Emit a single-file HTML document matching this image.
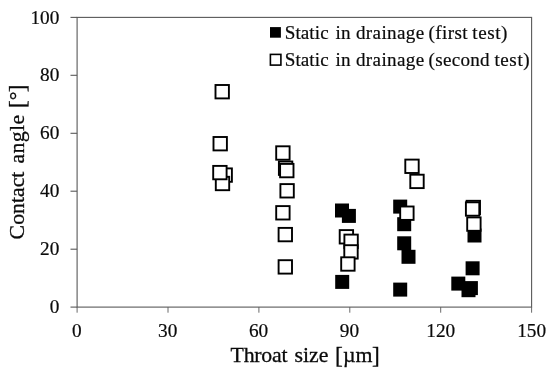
<!DOCTYPE html>
<html><head><meta charset="utf-8"><title>Contact angle vs throat size</title>
<style>
html,body{margin:0;padding:0;background:#fff;}
body{width:550px;height:377px;overflow:hidden;}
svg{display:block;}
text{font-family:"Liberation Serif","Times New Roman",serif;fill:#0a0a0a;stroke:#0a0a0a;stroke-width:0.2px;}
.tk{font-size:19.3px;}
.ax{font-size:21.8px;stroke-width:0.3px;}
.lg{font-size:19.1px;}
</style></head><body>
<svg width="550" height="377" viewBox="0 0 550 377">
<rect x="0" y="0" width="550" height="377" fill="#fff"/>
<g stroke="#595959" stroke-width="1.1" fill="none">
<rect x="77.1" y="17.4" width="454.5" height="289.7"/>
<line x1="70.5" y1="307.1" x2="77.1" y2="307.1"/>
<line x1="70.5" y1="249.2" x2="77.1" y2="249.2"/>
<line x1="70.5" y1="191.2" x2="77.1" y2="191.2"/>
<line x1="70.5" y1="133.3" x2="77.1" y2="133.3"/>
<line x1="70.5" y1="75.3" x2="77.1" y2="75.3"/>
<line x1="70.5" y1="17.4" x2="77.1" y2="17.4"/>
<line x1="77.1" y1="307.1" x2="77.1" y2="312.7" stroke-width="0.9"/>
<line x1="168.0" y1="307.1" x2="168.0" y2="312.7" stroke-width="0.9"/>
<line x1="258.9" y1="307.1" x2="258.9" y2="312.7" stroke-width="0.9"/>
<line x1="349.8" y1="307.1" x2="349.8" y2="312.7" stroke-width="0.9"/>
<line x1="440.7" y1="307.1" x2="440.7" y2="312.7" stroke-width="0.9"/>
<line x1="531.6" y1="307.1" x2="531.6" y2="312.7" stroke-width="0.9"/>
</g>
<g class="tk" text-anchor="end">
<text x="59.4" y="313.2">0</text>
<text x="59.4" y="255.3">20</text>
<text x="59.4" y="197.3">40</text>
<text x="59.4" y="139.4">60</text>
<text x="59.4" y="81.4">80</text>
<text x="59.4" y="23.5">100</text>
</g>
<g class="tk" text-anchor="middle">
<text x="76.8" y="336.7">0</text>
<text x="167.7" y="336.7">30</text>
<text x="258.6" y="336.7">60</text>
<text x="349.5" y="336.7">90</text>
<text x="440.7" y="336.7">120</text>
<text x="531.6" y="336.7">150</text>
</g>
<text class="ax"><tspan x="230.52" y="362.00" letter-spacing="-0.205">Throat</tspan> <tspan x="294.52" y="362.00" letter-spacing="-0.017">size</tspan> <tspan x="334.93" y="362.95" font-size="23.4" letter-spacing="0.000">[</tspan><tspan x="343.00" y="362.00" letter-spacing="0.000">µm</tspan><tspan x="372.10" y="362.95" font-size="23.4" letter-spacing="0.000">]</tspan></text>
<g transform="translate(23.8,400) rotate(-90)"><text class="ax"><tspan x="160.62" y="0.00" letter-spacing="0.004">Contact</tspan> <tspan x="236.45" y="0.00" letter-spacing="0.388">angle</tspan> <tspan x="292.02" y="0.95" font-size="23.4" letter-spacing="0.000">[</tspan><tspan x="299.89" y="0.00" letter-spacing="0.000">°</tspan><tspan x="307.80" y="0.95" font-size="23.4" letter-spacing="0.000">]</tspan></text></g>
<g fill="#000">
<rect x="335.0" y="203.5" width="14.0" height="14.0"/>
<rect x="341.9" y="208.9" width="14.0" height="14.0"/>
<rect x="335.2" y="274.9" width="14.0" height="14.0"/>
<rect x="393.2" y="199.6" width="14.0" height="14.0"/>
<rect x="397.2" y="217.2" width="14.0" height="14.0"/>
<rect x="397.2" y="236.3" width="14.0" height="14.0"/>
<rect x="401.5" y="249.8" width="14.0" height="14.0"/>
<rect x="393.2" y="282.6" width="14.0" height="14.0"/>
<rect x="467.5" y="228.5" width="14.0" height="14.0"/>
<rect x="465.6" y="261.3" width="14.0" height="14.0"/>
<rect x="451.3" y="276.6" width="14.0" height="14.0"/>
<rect x="461.5" y="283.2" width="14.0" height="14.0"/>
<rect x="463.9" y="281.1" width="14.0" height="14.0"/>
</g>
<g fill="#fff" stroke="#000" stroke-width="1.9">
<rect x="215.5" y="85.0" width="13.4" height="13.4"/>
<rect x="213.5" y="137.0" width="13.4" height="13.4"/>
<rect x="218.5" y="168.4" width="13.4" height="13.4"/>
<rect x="215.8" y="176.8" width="13.4" height="13.4"/>
<rect x="213.2" y="165.9" width="13.4" height="13.4"/>
<rect x="276.2" y="146.3" width="13.4" height="13.4"/>
<rect x="278.9" y="161.5" width="13.4" height="13.4"/>
<rect x="280.1" y="163.9" width="13.4" height="13.4"/>
<rect x="280.4" y="184.1" width="13.4" height="13.4"/>
<rect x="276.2" y="206.1" width="13.4" height="13.4"/>
<rect x="278.6" y="227.9" width="13.4" height="13.4"/>
<rect x="278.6" y="260.2" width="13.4" height="13.4"/>
<rect x="339.7" y="230.1" width="13.4" height="13.4"/>
<rect x="344.4" y="234.6" width="13.4" height="13.4"/>
<rect x="344.3" y="245.2" width="13.4" height="13.4"/>
<rect x="341.2" y="257.3" width="13.4" height="13.4"/>
<rect x="405.3" y="159.6" width="13.4" height="13.4"/>
<rect x="410.3" y="174.7" width="13.4" height="13.4"/>
<rect x="400.2" y="206.5" width="13.4" height="13.4"/>
<rect x="466.6" y="200.8" width="13.4" height="13.4"/>
<rect x="465.9" y="202.3" width="13.4" height="13.4"/>
<rect x="467.2" y="217.4" width="13.4" height="13.4"/>
</g>
<rect x="270.0" y="27.1" width="10.9" height="10.6" fill="#000"/>
<rect x="270.4" y="54.4" width="10.5" height="10.7" fill="#fff" stroke="#000" stroke-width="1.6"/>
<text class="lg"><tspan x="284.75" y="38.50" letter-spacing="0.075">Static</tspan> <tspan x="335.60" y="38.50" letter-spacing="0.000">in</tspan> <tspan x="355.98" y="38.50" letter-spacing="0.357">drainage</tspan> <tspan x="428.52" y="38.50" letter-spacing="0.375">(first</tspan> <tspan x="472.27" y="38.50" letter-spacing="0.581">test)</tspan></text>
<text class="lg"><tspan x="284.75" y="66.30" letter-spacing="0.075">Static</tspan> <tspan x="335.60" y="66.30" letter-spacing="0.000">in</tspan> <tspan x="355.98" y="66.30" letter-spacing="0.357">drainage</tspan> <tspan x="428.52" y="66.30" letter-spacing="0.292">(second</tspan> <tspan x="494.38" y="66.30" letter-spacing="0.606">test)</tspan></text>
</svg></body></html>
